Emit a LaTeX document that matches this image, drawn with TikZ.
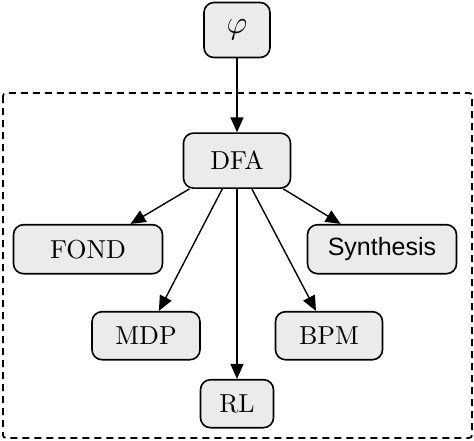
\documentclass[tikz,border=0pt]{standalone}
\usepackage{fontspec}
\newfontfamily\helv{Liberation Sans}
\newfontfamily\cmten{lmroman10-regular}[Extension=.otf]
\usetikzlibrary{arrows.meta, positioning}

\begin{document}
\begin{tikzpicture}[
    x=1pt, y=1pt,
    box/.style={rectangle, draw, rounded corners=10pt, line width=1.6pt, fill=black!8, align=center, inner sep=0pt, font=\fontsize{26}{30}\selectfont\cmten},
    arrow/.style={-{Triangle[length=15pt, width=13pt]}, line width=1.4pt},
    frame/.style={draw, dashed, line width=1.8pt, dash pattern=on 7pt off 5pt, rounded corners=3pt}
]
    \useasboundingbox (0,0) rectangle (474,-440);

    % Formula
    \node[box, minimum width=66pt, minimum height=55pt] (phi) at (237,-30) {\scalebox{1.3}{$\varphi$}};

    % Automaton
    \node[box, below=74pt of phi, minimum width=107pt, minimum height=55pt] (dfa) {DFA};

    % Targets
    \node[box, below=35pt of dfa, xshift=-149pt, minimum width=149pt, minimum height=49pt] (fond) {FOND};
    \node[box, below=35pt of dfa, xshift=145pt, minimum width=149pt, minimum height=49pt, font=\fontsize{25}{29}\selectfont\helv] (synth) {Synthesis};
    \node[box, below=122pt of dfa, xshift=-91pt, minimum width=108pt, minimum height=48pt] (mdp) {MDP};
    \node[box, below=122pt of dfa, xshift=92pt, minimum width=107pt, minimum height=48pt] (bpm) {BPM};
    \node[box, below=190pt of dfa, minimum width=73pt, minimum height=48pt] (rl) {RL};

    % Frame
    \draw[frame] (3,-93) rectangle (472,-438);

    % Arrows
    \draw[arrow] (phi) -- (dfa);
    \draw[arrow] (dfa) -- (fond);
    \draw[arrow] (dfa) -- (synth);
    \draw[arrow] (dfa) -- (mdp);
    \draw[arrow] (dfa) -- (bpm);
    \draw[arrow] (dfa) -- (rl);
\end{tikzpicture}
\end{document}
